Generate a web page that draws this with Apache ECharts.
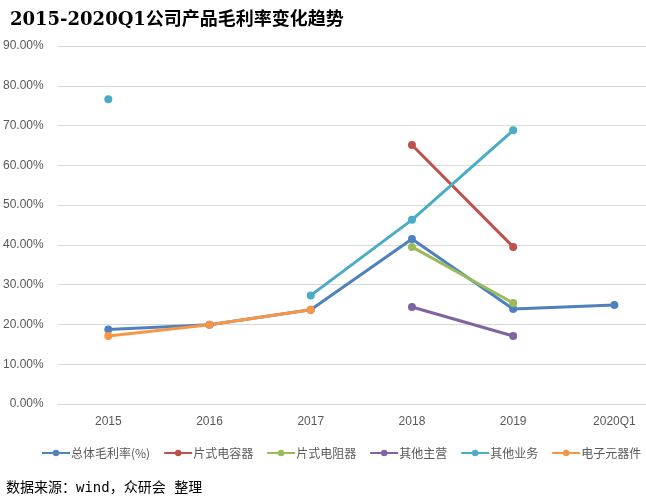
<!DOCTYPE html>
<html>
<head>
<meta charset="utf-8">
<script src="https://cdn.jsdelivr.net/npm/echarts@6/dist/echarts.min.js"></script>
<style>
  html, body { margin: 0; padding: 0; background: #fff; overflow: hidden; }
  /* 画布比窗口宽：原图网格线延伸出右边界 */
  #main { width: 665px; height: 504px; }
</style>
</head>
<body>
<div id="main"></div>
<script>
  // 类目与各系列数据（单位：%）
  const years = ["2015", "2016", "2017", "2018", "2019", "2020Q1"];
  const zongti = [18.7, 19.9, 23.7, 41.5, 23.9, 24.9];
  const dianrong = [null, null, null, 65.1, 39.5, null];
  const dianzu = [null, null, null, 39.5, 25.4, null];
  const qitaZhuying = [null, null, null, 24.4, 17.1, null];
  const qitaYewu = [76.6, null, 27.3, 46.3, 68.8, null];
  const dianzi = [17.1, 19.9, 23.7, null, null, null];

  const names = ["总体毛利率(%)", "片式电容器", "片式电阻器", "其他主营", "其他业务", "电子元器件"];
  const colors = ["#4F81BD", "#C0504D", "#9BBB59", "#8064A2", "#4BACC6", "#F79646"];
  const datas = [zongti, dianrong, dianzu, qitaZhuying, qitaYewu, dianzi];

  const chart = echarts.init(document.getElementById("main"));

  let option = {
    animation: false,
    color: colors,
    title: {
      text: "2015-2020Q1公司产品毛利率变化趋势",
      left: 5,
      top: 6,
      textStyle: {
        fontFamily: "'DejaVu Serif', 'Noto Sans CJK SC'",
        fontWeight: "bold",
        fontSize: 18,
        color: "#000",
      },
    },
    grid: {
      left: 57,
      right: 0,
      top: 46,
      bottom: 100,
    },
    legend: {
      top: 442,
      left: 36,
      width: 640,
      itemWidth: 28,
      itemHeight: 8,
      itemGap: 13,
      textStyle: {
        fontFamily: "Noto Sans CJK SC",
        fontSize: 12,
        color: "#595959",
        padding: [0, 0, 0, -4],
      },
      data: names,
    },
    xAxis: {
      type: "category",
      data: years,
      boundaryGap: true,
      axisLine: { show: true, lineStyle: { color: "#d9d9d9" } },
      axisTick: { show: false },
      axisLabel: { color: "#595959", fontSize: 12, margin: 12 },
    },
    yAxis: {
      type: "value",
      min: 0,
      max: 90,
      interval: 10,
      axisLine: { show: false },
      axisTick: { show: false },
      axisLabel: {
        color: "#595959",
        fontSize: 12,
        margin: 14,
        formatter: (v) => v.toFixed(2) + "%",
      },
      splitLine: { lineStyle: { color: "#d9d9d9", width: 1 } },
    },
    graphic: [
      {
        type: "text",
        left: 6,
        top: 481,
        style: {
          text: "数据来源：wind，众研会 整理",
          font: "14px 'DejaVu Sans Mono', 'Noto Sans CJK SC'",
          fill: "#000",
        },
      },
    ],
    series: names.map((n, i) => ({
      name: n,
      type: "line",
      data: datas[i],
      symbol: "circle",
      symbolSize: 8,
      connectNulls: false,
      lineStyle: { width: 3 },
    })),
  };

  chart.setOption(option);
</script>
</body>
</html>
